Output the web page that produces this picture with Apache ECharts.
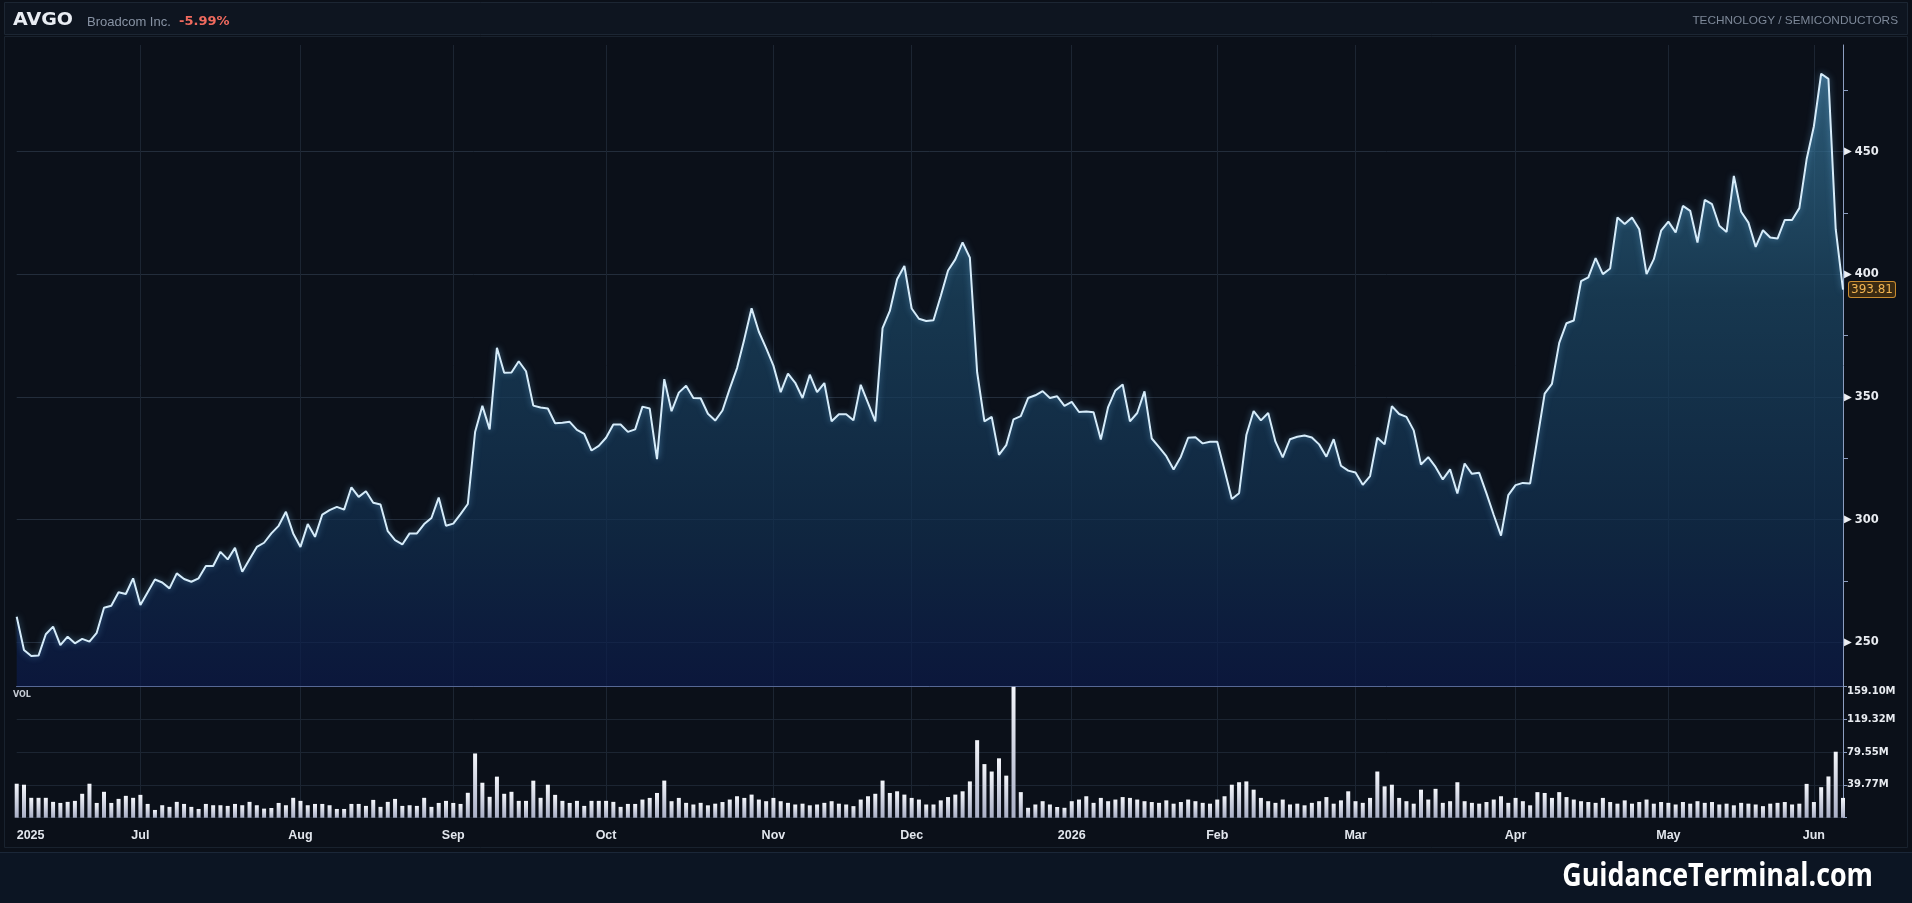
<!DOCTYPE html>
<html>
<head>
<meta charset="utf-8">
<title>AVGO - Broadcom Inc.</title>
<script src="https://cdn.jsdelivr.net/npm/echarts@6.0.0/dist/echarts.min.js"></script>
<style>
  html, body { margin: 0; padding: 0; background: #0b1019; }
  #chart { width: 1912px; height: 903px; }
</style>
</head>
<body>
<div id="chart"></div>
<script>
// daily closes, one per session from 2025-06-05 to 2026-06-05
var closes = [
  260.4, 246.9, 244.4, 244.6, 253.3, 256.4, 248.9, 252.3, 249.6, 251.4,
  250.3, 253.9, 264.1, 264.9, 270.4, 269.7, 276.1, 265.2, 270.4, 275.6,
  274.4, 272.0, 278.1, 275.8, 274.7, 276.1, 281.1, 281.1, 286.9, 283.8,
  288.5, 278.8, 283.9, 288.9, 290.6, 294.4, 297.5, 303.2, 294.4, 288.9,
  298.2, 293.0, 302.1, 303.9, 305.2, 304.1, 313.2, 309.3, 311.6, 306.9,
  306.2, 295.3, 291.7, 289.9, 294.4, 294.4, 298.2, 300.7, 309.0, 297.5,
  298.4, 302.3, 306.4, 335.7, 346.4, 336.8, 370.1, 359.9, 360.0, 364.6,
  360.5, 346.5, 345.7, 345.3, 339.3, 339.5, 339.9, 336.6, 335.0, 328.2,
  330.1, 333.4, 338.8, 338.8, 335.8, 336.8, 346.1, 345.3, 324.7, 357.3,
  344.2, 351.8, 354.6, 349.6, 349.5, 343.2, 340.4, 344.5, 353.4, 361.8,
  373.6, 386.2, 376.6, 369.9, 362.8, 352.0, 359.5, 355.8, 349.6, 359.1,
  352.0, 355.7, 340.1, 343.0, 343.0, 340.5, 355.0, 347.6, 340.1, 378.1,
  385.1, 398.0, 403.4, 386.1, 381.9, 381.0, 381.3, 391.2, 401.6, 406.1,
  413.0, 406.8, 360.1, 340.1, 341.9, 326.4, 330.4, 340.9, 342.2, 349.6,
  350.7, 352.4, 349.6, 350.3, 346.4, 348.0, 343.9, 344.1, 343.8, 332.7,
  345.9, 352.7, 355.1, 340.1, 343.5, 352.3, 333.1, 329.6, 325.9, 320.5,
  325.7, 333.4, 333.6, 331.1, 331.8, 331.8, 320.3, 308.4, 310.8, 334.5,
  344.3, 340.5, 343.5, 331.8, 325.4, 332.8, 333.8, 334.3, 333.5, 330.7,
  325.7, 332.8, 322.0, 320.0, 319.2, 314.2, 317.8, 333.4, 330.7, 346.3,
  343.1, 341.9, 336.4, 322.5, 325.5, 321.5, 316.4, 320.5, 310.7, 322.9,
  318.7, 319.1, 310.7, 301.9, 293.5, 310.0, 314.1, 315.0, 314.8, 333.1,
  351.4, 355.4, 372.1, 380.1, 381.2, 397.2, 398.8, 406.6, 400.1, 402.4,
  423.2, 420.5, 423.2, 418.4, 400.1, 406.2, 417.8, 421.5, 417.1, 427.9,
  425.9, 413.0, 430.4, 428.6, 419.8, 417.3, 440.1, 425.5, 421.1, 411.2,
  418.0, 415.0, 414.6, 422.2, 422.2, 427.0, 446.9, 460.4, 481.8, 479.7,
  418.4, 393.81
];

// volume in millions of shares
var volumes = [
  41.2, 40.0, 24.1, 24.1, 24.1, 19.2, 17.9, 19.2, 20.4, 29.0,
  41.2, 17.9, 31.4, 17.9, 22.8, 26.5, 24.1, 27.7, 16.7, 9.4,
  15.1, 13.1, 19.2, 16.7, 13.1, 10.6, 16.7, 15.1, 15.1, 14.3,
  16.7, 15.1, 19.2, 15.1, 11.0, 11.8, 17.9, 15.1, 24.1, 20.4,
  15.1, 16.7, 16.7, 15.1, 10.6, 10.6, 16.7, 16.7, 14.3, 21.6,
  13.1, 19.2, 22.8, 14.3, 15.1, 14.3, 24.1, 13.1, 17.9, 20.4,
  17.9, 16.7, 30.2, 77.9, 42.4, 25.3, 49.8, 29.0, 31.4, 20.4,
  20.4, 44.9, 24.1, 40.0, 27.7, 20.4, 17.9, 20.4, 14.3, 20.4,
  20.4, 20.4, 19.2, 13.1, 16.7, 16.7,
  22, 24, 30, 45, 20, 24, 18, 16, 18, 15, 17, 19, 22, 26, 24, 28, 22, 20,
  24, 20, 18, 16, 17, 15, 16, 18, 20, 17, 16, 14, 22, 26, 29, 45, 30, 32, 28,
  24, 22, 16, 16, 21, 25, 28, 32, 44, 94, 65, 56, 72, 51, 159.1, 31, 12, 16, 20, 16, 13, 12,
  20, 22, 26, 18, 24, 20, 22, 25, 24, 22, 20, 19, 18, 21, 17, 19, 22, 20, 18, 17,
  22, 26, 40, 43, 44, 34, 24, 20, 18, 22, 16, 17, 15, 18, 20, 25, 17, 21, 32,
  20, 18, 24, 56, 38, 40, 24, 20, 17, 34, 22, 35, 18, 20, 43, 20, 18, 17, 19, 22, 26, 18,
  24, 20, 15, 31, 30, 24, 31, 25, 22, 20, 19, 18, 24, 19, 17, 21, 17, 19, 22, 17, 19,
  18, 16, 19, 17, 20, 18, 19, 16, 17, 15, 18, 17, 16, 14, 17, 18, 19, 16, 17, 41, 19, 37, 50, 80, 24
];

var priceTicks = [250, 300, 350, 400, 450];
var priceMinorTicks = [275, 325, 375, 425, 475];
var priceMin = 232;
var priceMax = 493.5;
var volMax = 159.1;
var lastPrice = 393.81;
var monthNames = ['Jan', 'Feb', 'Mar', 'Apr', 'May', 'Jun', 'Jul', 'Aug', 'Sep', 'Oct', 'Nov', 'Dec'];
var holidays = ['2025-06-19', '2025-07-04', '2025-09-01', '2025-11-27', '2025-12-25',
  '2026-01-01', '2026-01-19', '2026-02-16', '2026-04-03', '2026-05-25'];

// trading sessions (weekdays minus market holidays)
var dates = [];
var d = new Date(Date.UTC(2025, 5, 5));
while (dates.length < closes.length) {
  var wd = d.getUTCDay();
  var s = d.toISOString().slice(0, 10);
  if (wd !== 0 && wd !== 6 && holidays.indexOf(s) < 0) dates.push(s);
  d.setUTCDate(d.getUTCDate() + 1);
}

function monthStart(i) {
  if (i === 0) return true;
  return dates[i].slice(5, 7) !== dates[i - 1].slice(5, 7);
}

var axisCol = '#8d9ec0';
var gridCol = '#232d3b';
var vGridCol = '#1c2532';

var chart = echarts.init(document.getElementById('chart'));

var option = {
  animation: false,
  backgroundColor: '#0b1019',
  graphic: [
    // header bar
    { type: 'rect', z: -1, shape: { x: 4.5, y: 2.5, width: 1903, height: 32 },
      style: { fill: '#0e1520', stroke: '#1c2633', lineWidth: 1 } },
    // chart frame
    { type: 'rect', z: -1, shape: { x: 4.5, y: 36.5, width: 1903, height: 811 },
      style: { fill: '#0b1019', stroke: '#19222e', lineWidth: 1 } },
    // footer
    { type: 'rect', z: -1, shape: { x: 0, y: 852, width: 1912, height: 51 },
      style: { fill: '#0c1523' } },
    { type: 'line', z: -1, shape: { x1: 0, y1: 852.5, x2: 1912, y2: 852.5 },
      style: { stroke: '#1b2738', lineWidth: 1 } },
    { type: 'text', x: 13, y: 21, scaleX: 1.12,
      style: { text: 'AVGO', fill: '#e9edf3', font: 'bold 17px "DejaVu Sans"',
        textVerticalAlign: 'middle', verticalAlign: 'middle' } },
    { type: 'text', x: 87, y: 22,
      style: { text: 'Broadcom Inc.', fill: '#8893a4', font: '13px "Liberation Sans"',
        textVerticalAlign: 'middle', verticalAlign: 'middle' } },
    { type: 'text', x: 179, y: 22,
      style: { text: '-5.99%', fill: '#ef6a5e', font: 'bold 13px "DejaVu Sans"',
        textVerticalAlign: 'middle', verticalAlign: 'middle' } },
    { type: 'text', x: 1898, y: 21,
      style: { text: 'TECHNOLOGY / SEMICONDUCTORS', fill: '#7d8898', font: '11.8px "Liberation Sans"',
        textAlign: 'right', align: 'right', textVerticalAlign: 'middle', verticalAlign: 'middle' } },
    { type: 'text', x: 13, y: 695,
      style: { text: 'VOL', fill: '#c5cad3', font: 'bold 8px "DejaVu Sans"',
        textVerticalAlign: 'middle', verticalAlign: 'middle' } },
    { type: 'text', x: 1873, y: 877, scaleX: 0.84,
      style: { text: 'GuidanceTerminal.com', fill: '#ffffff', font: 'bold 32px "Open Sans"',
        textAlign: 'right', align: 'right', textVerticalAlign: 'middle', verticalAlign: 'middle' } }
  ],
  grid: [
    { left: 16.7, right: 69, top: 45, height: 641.5 },
    { left: 16.7, right: 69, top: 686.5, height: 131.2 }
  ],
  xAxis: [
    {
      type: 'category', gridIndex: 0, data: dates, boundaryGap: false,
      axisLine: { show: true, lineStyle: { color: '#7f92bd', width: 1 } },
      axisTick: { show: false },
      axisLabel: { show: false },
      splitLine: {
        show: true,
        interval: function (i) { return i > 0 && monthStart(i); },
        lineStyle: { color: vGridCol, width: 1 }
      }
    },
    {
      type: 'category', gridIndex: 1, data: dates, boundaryGap: false,
      axisLine: { show: false },
      axisTick: { show: false },
      axisLabel: {
        interval: function (i) { return monthStart(i); },
        formatter: function (v, i) {
          var m = +v.slice(5, 7);
          if (i === 0 || m === 1) return v.slice(0, 4);
          return monthNames[m - 1];
        },
        alignMinLabel: 'left',
        margin: 11,
        color: '#e2e6ed',
        fontFamily: 'Liberation Sans',
        fontWeight: 'bold',
        fontSize: 12.5
      },
      splitLine: {
        show: true,
        interval: function (i) { return i > 0 && monthStart(i); },
        lineStyle: { color: vGridCol, width: 1 }
      }
    }
  ],
  yAxis: [
    {
      type: 'value', gridIndex: 0, position: 'right', min: priceMin, max: priceMax,
      axisLine: { show: true, lineStyle: { color: axisCol, width: 1 } },
      axisTick: { show: true, length: 0, customValues: priceTicks },
      axisLabel: {
        customValues: priceTicks,
        margin: 1,
        formatter: function (v) { return '{a|▶}{b|' + v + '}'; },
        rich: {
          a: { fontSize: 10, color: '#eef0f4', fontFamily: 'DejaVu Sans' },
          b: { fontSize: 11.5, fontWeight: 'bold', color: '#e8ebf0', fontFamily: 'DejaVu Sans', padding: [0, 0, 0, 3] }
        }
      },
      splitLine: { show: true, lineStyle: { color: gridCol, width: 1 } }
    },
    {
      // minor ticks between the labelled levels
      type: 'value', gridIndex: 0, position: 'right', min: priceMin, max: priceMax,
      axisLine: { show: false },
      axisTick: { show: true, length: 5, customValues: priceMinorTicks, lineStyle: { color: axisCol } },
      axisLabel: { show: false },
      splitLine: { show: false }
    },
    {
      type: 'value', gridIndex: 1, position: 'right', min: 0, max: volMax, interval: volMax / 4,
      axisLine: { show: true, lineStyle: { color: axisCol, width: 1 } },
      axisTick: { show: true, length: 4, lineStyle: { color: axisCol } },
      axisLabel: {
        margin: 4,
        verticalAlignMaxLabel: 'top',
        formatter: function (v) {
          if (v === 0) return '';
          return (Math.floor(v * 100 + 1e-6) / 100).toFixed(2) + 'M';
        },
        color: '#e8ebf0', fontFamily: 'DejaVu Sans', fontWeight: 'bold', fontSize: 10
      },
      splitLine: { show: true, lineStyle: { color: vGridCol, width: 1 } }
    }
  ],
  series: [
    {
      name: 'AVGO', type: 'line', xAxisIndex: 0, yAxisIndex: 0,
      data: closes, symbol: 'none', z: 3,
      lineStyle: { color: '#d6ecfa', width: 2, shadowBlur: 6, shadowColor: 'rgba(120,190,240,0.55)' },
      areaStyle: {
        color: new echarts.graphic.LinearGradient(0, 0, 0, 1, [
          { offset: 0, color: '#3e7a9e' },
          { offset: 0.12, color: '#306a8c' },
          { offset: 0.37, color: '#1c4866' },
          { offset: 0.75, color: '#112f50' },
          { offset: 1, color: '#0b1a4a' }
        ])
      },
      markLine: {
        silent: true, symbol: 'none',
        lineStyle: { color: 'transparent', width: 0 },
        data: [{ yAxis: lastPrice }],
        label: {
          position: 'end', distance: 6,
          formatter: lastPrice.toFixed(2),
          color: '#f2b552', fontFamily: 'DejaVu Sans', fontSize: 12,
          backgroundColor: '#3a2a12', borderColor: '#c98c30', borderWidth: 1,
          borderRadius: 2, padding: [2, 2, 1, 2]
        }
      }
    },
    {
      name: 'VOL', type: 'bar', xAxisIndex: 1, yAxisIndex: 2,
      data: volumes, barWidth: 4, clip: false,
      itemStyle: {
        color: new echarts.graphic.LinearGradient(0, 0, 0, 1, [
          { offset: 0, color: '#f4f6fb' },
          { offset: 1, color: '#a9afc6' }
        ])
      }
    }
  ]
};

chart.setOption(option);
</script>
</body>
</html>
